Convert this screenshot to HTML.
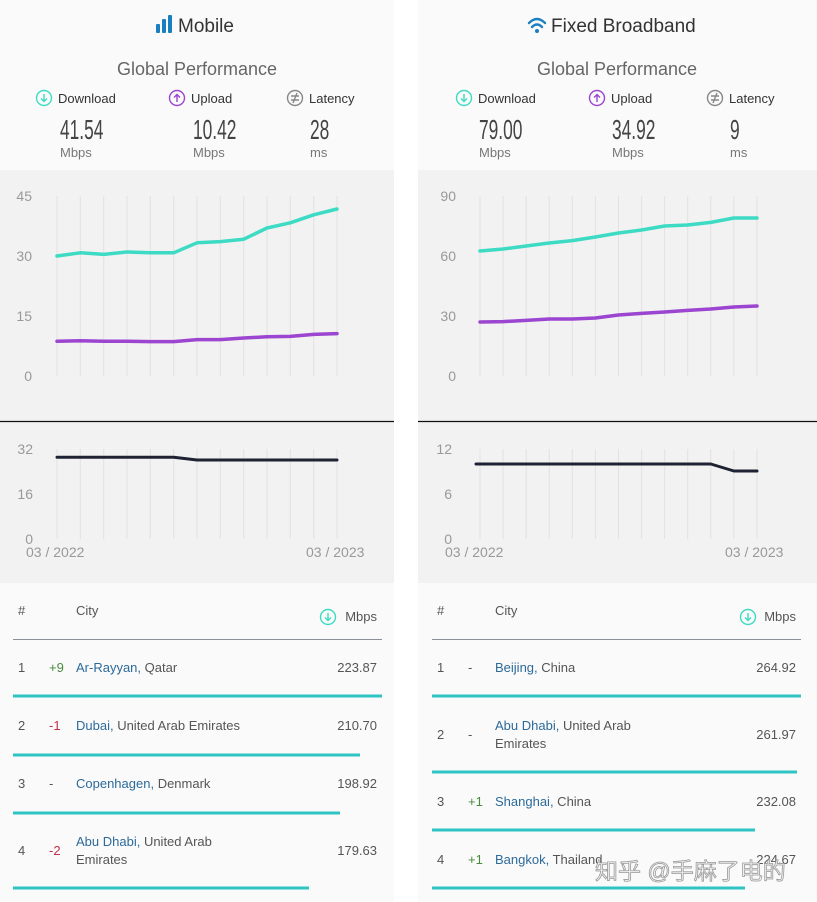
<!DOCTYPE html>
<html><head><meta charset="utf-8"><style>
html,body{margin:0;padding:0;background:#fff}
svg{display:block}
text{font-family:"Liberation Sans",sans-serif}
</style></head><body>
<svg width="817" height="902" viewBox="0 0 817 902" xmlns="http://www.w3.org/2000/svg">
<rect width="817" height="902" fill="#ffffff"/>
<!-- cards -->
<rect x="0" y="0" width="394" height="902" fill="#fafafa"/>
<rect x="418" y="0" width="399" height="902" fill="#fafafa"/>
<rect x="0" y="170" width="394" height="413" fill="#f2f2f2"/>
<rect x="418" y="170" width="399" height="413" fill="#f2f2f2"/>
<line x1="0" y1="421.5" x2="394" y2="421.5" stroke="#111" stroke-width="1.2"/>
<line x1="418" y1="421.5" x2="817" y2="421.5" stroke="#111" stroke-width="1.2"/>

<!-- headers -->
<g fill="#1a7fc1"><rect x="156" y="24" width="4" height="9" rx="1"/><rect x="162" y="19" width="4" height="14" rx="1"/><rect x="168" y="15" width="4" height="18" rx="1"/></g>
<text x="178" y="32" font-size="19" fill="#333">Mobile</text>
<g fill="none" stroke="#1a7fc1" stroke-width="2.4" stroke-linecap="round"><path d="M529 23 Q537 15 545 23"/><path d="M532 27 Q537 22 542 27"/></g>
<circle cx="537" cy="31" r="2" fill="#1a7fc1"/>
<text x="551" y="32" font-size="19" fill="#333">Fixed Broadband</text>

<g font-size="18" fill="#666" text-anchor="middle">
<text x="197" y="75">Global Performance</text>
<text x="617" y="75">Global Performance</text>
</g>

<!-- icons & labels -->
<g font-size="13" fill="#333">
<text x="58" y="103">Download</text><text x="191" y="103">Upload</text><text x="309" y="103">Latency</text>
<text x="478" y="103">Download</text><text x="611" y="103">Upload</text><text x="729" y="103">Latency</text>
</g>
<g fill="none" stroke-width="1.4">
<circle cx="44" cy="98" r="7.5" stroke="#3ddbc3"/><path d="M44 94v7M41 98.5l3 3 3-3" stroke="#3ddbc3"/>
<circle cx="177" cy="98" r="7.5" stroke="#9b45d1"/><path d="M177 102v-7M174 97.5l3-3 3 3" stroke="#9b45d1"/>
<circle cx="295" cy="98" r="7.5" stroke="#888"/><path d="M291 96h8M291 100h8M297 93l-4 10" stroke="#888"/>
<circle cx="464" cy="98" r="7.5" stroke="#3ddbc3"/><path d="M464 94v7M461 98.5l3 3 3-3" stroke="#3ddbc3"/>
<circle cx="597" cy="98" r="7.5" stroke="#9b45d1"/><path d="M597 102v-7M594 97.5l3-3 3 3" stroke="#9b45d1"/>
<circle cx="715" cy="98" r="7.5" stroke="#888"/><path d="M711 96h8M711 100h8M717 93l-4 10" stroke="#888"/>
</g>
<g font-size="28" fill="#444" font-weight="normal">
<text transform="translate(60 139) scale(0.62 1)">41.54</text>
<text transform="translate(193 139) scale(0.62 1)">10.42</text>
<text transform="translate(310 139) scale(0.62 1)">28</text>
<text transform="translate(479 139) scale(0.62 1)">79.00</text>
<text transform="translate(612 139) scale(0.62 1)">34.92</text>
<text transform="translate(730 139) scale(0.62 1)">9</text>
</g>
<g font-size="13" fill="#777">
<text x="60" y="157">Mbps</text><text x="193" y="157">Mbps</text><text x="310" y="157">ms</text>
<text x="479" y="157">Mbps</text><text x="612" y="157">Mbps</text><text x="730" y="157">ms</text>
</g>

<!-- gridlines -->
<g stroke="#e2e2e2" stroke-width="1">
<path d="M57 196V376M80.3 196V376M103.7 196V376M127 196V376M150.3 196V376M173.7 196V376M197 196V376M220.3 196V376M243.7 196V376M267 196V376M290.3 196V376M313.7 196V376M337 196V376"/>
<path d="M57 449V539M80.3 449V539M103.7 449V539M127 449V539M150.3 449V539M173.7 449V539M197 449V539M220.3 449V539M243.7 449V539M267 449V539M290.3 449V539M313.7 449V539M337 449V539"/>
<path d="M480 196V376M503.1 196V376M526.2 196V376M549.2 196V376M572.3 196V376M595.4 196V376M618.5 196V376M641.6 196V376M664.6 196V376M687.7 196V376M710.8 196V376M733.9 196V376M757 196V376"/>
<path d="M480 449V539M503.1 449V539M526.2 449V539M549.2 449V539M572.3 449V539M595.4 449V539M618.5 449V539M641.6 449V539M664.6 449V539M687.7 449V539M710.8 449V539M733.9 449V539M757 449V539"/>
</g>

<!-- ticks -->
<g font-size="14" fill="#999" text-anchor="end">
<text x="32" y="201">45</text><text x="32" y="261">30</text><text x="32" y="321">15</text><text x="32" y="381">0</text>
<text x="33" y="454">32</text><text x="33" y="499">16</text><text x="33" y="544">0</text>
<text x="456" y="201">90</text><text x="456" y="261">60</text><text x="456" y="321">30</text><text x="456" y="381">0</text>
<text x="452" y="454">12</text><text x="452" y="499">6</text><text x="452" y="544">0</text>
</g>
<g font-size="14" fill="#999">
<text x="26" y="557">03 / 2022</text><text x="306" y="557">03 / 2023</text>
<text x="445" y="557">03 / 2022</text><text x="725" y="557">03 / 2023</text>
</g>

<!-- series -->
<g fill="none" stroke-width="3.5" stroke-linejoin="round" stroke-linecap="round">
<polyline stroke="#3ddbc3" points="57,256 80.3,252.8 103.7,254.4 127,252 150.3,252.8 173.7,252.8 197,242.8 220.3,241.6 243.7,239.2 267,228 290.3,222.8 313.7,214.8 337,209"/>
<polyline stroke="#9b45d1" points="57,341.2 80.3,340.8 103.7,341.2 127,341.2 150.3,341.6 173.7,341.6 197,339.6 220.3,339.6 243.7,338 267,336.8 290.3,336.4 313.7,334.4 337,333.6"/>
<polyline stroke="#1f2233" stroke-width="3" points="57,457.3 173.7,457.3 197,460 337,460"/>
<polyline stroke="#3ddbc3" points="480,251 503.1,249 526.2,246 549.2,243 572.3,240.6 595.4,237 618.5,233 641.6,230 664.6,226 687.7,225 710.8,222.4 733.9,218 757,218"/>
<polyline stroke="#9b45d1" points="480,322 503.1,321.6 526.2,320.4 549.2,319 572.3,319 595.4,318 618.5,315 641.6,313.4 664.6,312 687.7,310.4 710.8,309 733.9,307 757,306"/>
<polyline stroke="#1f2233" stroke-width="3" points="476,464 710.8,464 733.9,471 757,471"/>
</g>

<!-- tables -->
<g font-size="13" fill="#555">
<text x="18" y="615">#</text><text x="76" y="615">City</text><text x="377" y="621" text-anchor="end">Mbps</text>
<text x="437" y="615">#</text><text x="495" y="615">City</text><text x="796" y="621" text-anchor="end">Mbps</text>
</g>
<g fill="none" stroke="#3ddbc3" stroke-width="1.4">
<circle cx="328" cy="617" r="7.5"/><path d="M328 613v7M325 617.5l3 3 3-3"/>
<circle cx="748" cy="617" r="7.5"/><path d="M748 613v7M745 617.5l3 3 3-3"/>
</g>
<line x1="13" y1="639.5" x2="382" y2="639.5" stroke="#8a8f99" stroke-width="1"/>
<line x1="432" y1="639.5" x2="801" y2="639.5" stroke="#8a8f99" stroke-width="1"/>
<g stroke="#2ec4c4" stroke-width="3">
<line x1="13" y1="696" x2="382" y2="696"/><line x1="13" y1="755" x2="360" y2="755"/>
<line x1="13" y1="813" x2="340" y2="813"/><line x1="13" y1="888" x2="309" y2="888"/>
<line x1="432" y1="696" x2="801" y2="696"/><line x1="432" y1="772" x2="797" y2="772"/>
<line x1="432" y1="830" x2="755" y2="830"/><line x1="432" y1="888" x2="745" y2="888"/>
</g>
<g font-size="13" fill="#555">
<text x="18" y="672">1</text><text x="18" y="730">2</text><text x="18" y="788">3</text><text x="18" y="855">4</text>
<text x="377" y="672" text-anchor="end">223.87</text><text x="377" y="730" text-anchor="end">210.70</text>
<text x="377" y="788" text-anchor="end">198.92</text><text x="377" y="855" text-anchor="end">179.63</text>
<text x="49" y="672" fill="#4a8a3c">+9</text><text x="49" y="730" fill="#c0304a">-1</text>
<text x="49" y="788">-</text><text x="49" y="855" fill="#c0304a">-2</text>
<text x="76" y="672"><tspan fill="#2c6a9a">Ar-Rayyan,</tspan> Qatar</text>
<text x="76" y="730"><tspan fill="#2c6a9a">Dubai,</tspan> United Arab Emirates</text>
<text x="76" y="788"><tspan fill="#2c6a9a">Copenhagen,</tspan> Denmark</text>
<text x="76" y="846"><tspan fill="#2c6a9a">Abu Dhabi,</tspan> United Arab</text>
<text x="76" y="864">Emirates</text>

<text x="437" y="672">1</text><text x="437" y="739">2</text><text x="437" y="806">3</text><text x="437" y="864">4</text>
<text x="796" y="672" text-anchor="end">264.92</text><text x="796" y="739" text-anchor="end">261.97</text>
<text x="796" y="806" text-anchor="end">232.08</text><text x="796" y="864" text-anchor="end">224.67</text>
<text x="468" y="672">-</text><text x="468" y="739">-</text>
<text x="468" y="806" fill="#4a8a3c">+1</text><text x="468" y="864" fill="#4a8a3c">+1</text>
<text x="495" y="672"><tspan fill="#2c6a9a">Beijing,</tspan> China</text>
<text x="495" y="730"><tspan fill="#2c6a9a">Abu Dhabi,</tspan> United Arab</text>
<text x="495" y="748">Emirates</text>
<text x="495" y="806"><tspan fill="#2c6a9a">Shanghai,</tspan> China</text>
<text x="495" y="864"><tspan fill="#2c6a9a">Bangkok,</tspan> Thailand</text>
</g>
<text x="595" y="879" font-size="23" fill="#f4f4f4" stroke="#999" stroke-width="0.8" style="font-family:'Liberation Sans','Noto Sans CJK SC',sans-serif">知乎 @手麻了电的</text>
</svg>
</body></html>
